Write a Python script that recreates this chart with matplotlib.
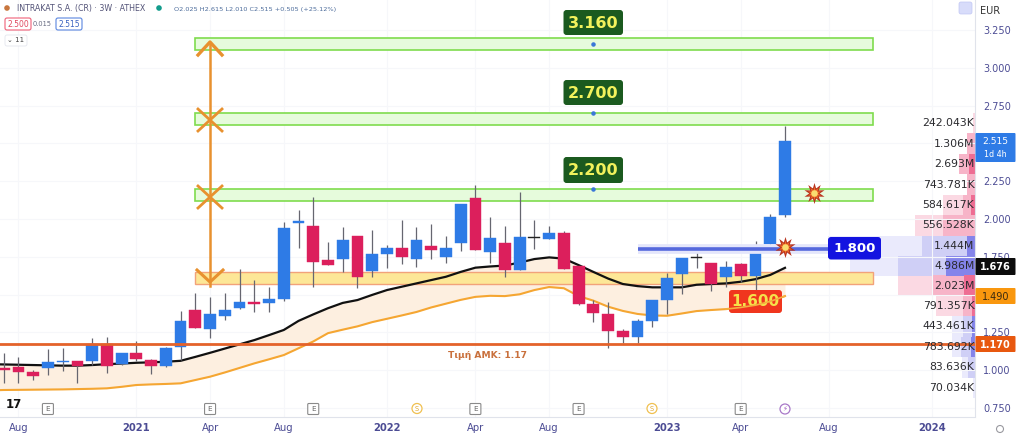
import matplotlib
matplotlib.use("Agg")
import matplotlib.pyplot as plt
import numpy as np
from matplotlib.patches import FancyBboxPatch, Rectangle, Circle
from matplotlib.transforms import Affine2D

# ---------- data ----------
opens = [1.012,1.021,0.988,1.012,1.054,1.062,1.062,1.171,1.039,1.114,1.065,1.030,1.151,1.398,1.272,1.356,1.411,1.451,1.444,1.471,
         1.972,1.954,1.729,1.733,1.889,1.656,1.766,1.808,1.733,1.823,1.748,1.843,2.141,1.782,1.843,1.662,1.877,1.868,1.905,1.689,
         1.438,1.373,1.257,1.221,1.327,1.466,1.638,1.740,1.709,1.616,1.700,1.623,1.837,2.025]
highs = [1.115,1.085,1.001,1.140,1.145,1.062,1.213,1.221,1.115,1.193,1.072,1.153,1.391,1.508,1.482,1.511,1.667,1.597,1.552,1.982,
         2.059,2.147,1.850,1.949,1.889,1.927,1.828,1.993,1.949,1.965,1.887,2.097,2.225,2.015,1.954,2.176,1.993,1.954,1.921,1.689,
         1.464,1.449,1.272,1.338,1.462,1.641,1.740,1.795,1.709,1.724,1.707,1.856,2.031,2.615]
lows = [0.913,0.913,0.935,0.966,0.995,0.913,1.034,0.979,1.034,1.062,0.975,1.019,1.067,1.277,1.211,1.334,1.407,1.387,1.387,1.460,
        1.810,1.552,1.694,1.651,1.541,1.618,1.678,1.702,1.684,1.733,1.711,1.790,1.797,1.711,1.614,1.662,1.801,1.868,1.667,1.431,
        1.321,1.149,1.178,1.178,1.283,1.372,1.504,1.674,1.526,1.552,1.585,1.530,1.800,2.010]
closes = [1.001,0.988,0.963,1.054,1.062,1.028,1.173,1.026,1.115,1.074,1.030,1.149,1.327,1.277,1.372,1.400,1.451,1.440,1.473,1.940,
          1.989,1.718,1.698,1.859,1.618,1.766,1.808,1.748,1.859,1.795,1.808,2.097,1.797,1.874,1.662,1.879,1.877,1.905,1.667,1.438,
          1.378,1.259,1.221,1.327,1.462,1.612,1.740,1.740,1.570,1.680,1.623,1.800,2.013,2.515]
ma_black = [1.040,1.038,1.036,1.034,1.032,1.030,1.030,1.034,1.040,1.044,1.049,1.052,1.056,1.062,1.088,1.115,1.143,1.171,1.199,1.232,1.266,
            1.326,1.369,1.410,1.445,1.464,1.498,1.530,1.552,1.574,1.596,1.618,1.650,1.678,1.686,1.692,1.712,1.735,1.746,1.738,1.695,
            1.650,1.606,1.570,1.556,1.548,1.548,1.548,1.565,1.570,1.574,1.585,1.602,1.630,1.677]
ma_orange = [0.866,0.869,0.870,0.871,0.872,0.873,0.875,0.877,0.880,0.890,0.902,0.906,0.909,0.913,0.935,0.957,0.985,1.015,1.045,1.072,1.100,
             1.145,1.190,1.245,1.268,1.290,1.318,1.340,1.362,1.385,1.415,1.440,1.465,1.485,1.492,1.490,1.502,1.530,1.550,1.542,1.490,
             1.460,1.420,1.392,1.372,1.362,1.360,1.375,1.391,1.398,1.404,1.415,1.430,1.455,1.490]

target_levels = [3.16, 2.70, 2.20]
target_labels = ["3.160", "2.700", "2.200"]
target_zones = [(3.118, 3.197), (2.622, 2.700), (2.120, 2.200)]
yellow_zone = (1.570, 1.650)
amk_price = 1.17
blue_level = 1.80

vp_prices = [2.635,2.499,2.364,2.228,2.092,1.957,1.821,1.689,1.560,1.425,1.289,1.153,1.018,0.882]
vp_labels = ["242.043K","1.306M","2.693M","743.781K","584.617K","556.528K","1.444M","4.986M","2.023M","791.357K","443.461K","783.692K","83.636K","70.034K"]
vp_light = [2,8,16,8,32,60,147,125,77,39,23,23,13,2]
vp_mid   = [0,8,16,8,12,32,53,77,43,12,12,14,7,0]
vp_dark  = [0,0,6,0,4,0,8,29,11,3,3,4,0,0]
vp_side  = ["s","s","s","s","s","s","b","b","s","s","b","b","b","b"]

price_ticks = [3.25,3.0,2.75,2.5,2.25,2.0,1.75,1.5,1.25,1.0,0.75]
price_tick_labels = ["3.250","3.000","2.750","","2.250","2.000","1.750","","1.250","1.000","0.750"]
date_pos = [1,9,14,19,26,32,37,45,50,56,63]
date_labels = ["Aug","2021","Apr","Aug","2022","Apr","Aug","2023","Apr","Aug","2024"]
earnings_idx = [3,14,21,32,39,50]

# ---------- layout ----------
W, H = 1024, 442
fig = plt.figure(figsize=(W/100, H/100), dpi=100, facecolor="white")
axrect = [0, (H-416.5)/H, 975/W, 416.5/H]
ylim = (0.6937, 3.4484)
xlim = (-0.251, 65.89)
pxT = Affine2D().scale(1, -1).translate(0, H)

vp = fig.add_axes(axrect, zorder=0)
vp.set_xlim(975, 0); vp.set_ylim(*ylim); vp.axis("off")
ax = fig.add_axes(axrect, zorder=1)
ax.patch.set_alpha(0)
ax.set_xlim(*xlim); ax.set_ylim(*ylim)

TICK = "#4c4c94"
ax.yaxis.tick_right()
ax.set_yticks(price_ticks, price_tick_labels, color=TICK, fontsize=7)
ax.set_xticks(date_pos, date_labels, color=TICK, fontsize=7.2)
for t, s in zip(ax.get_xticklabels(), date_labels):
    if s.isdigit():
        t.set_fontweight("bold")
ax.tick_params(length=0, axis="y", pad=6)
ax.tick_params(length=0, axis="x", pad=5)
ax.grid(True, color="#f6f7fa", lw=0.8)
ax.set_axisbelow(True)
for s in ["top", "left"]:
    ax.spines[s].set_visible(False)
for s in ["right", "bottom"]:
    ax.spines[s].set_color("#e0e3eb")

# volume profile
wh = 0.1362
PK = ["#fbd9e3", "#f7b4c8", "#ee6d93"]
LV = ["#eaeafc", "#cfcff6", "#8484ea"]
for vals, lev in ((vp_light, 0), (vp_mid, 1), (vp_dark, 2)):
    cols = [(PK if s == "s" else LV)[lev] for s in vp_side]
    vp.barh(vp_prices, vals, height=wh, left=0, color=cols, lw=0)

# MA band
ma_x = np.arange(-1, len(closes))
ax.fill_between(ma_x, ma_orange, ma_black, color="#fdefe0", lw=0, zorder=1)

# zones
for lo, hi in target_zones:
    ax.add_patch(Rectangle((13, lo), 46, hi-lo, fc="#e6fbdc", ec="#7fdc4e", lw=1.2, zorder=1.5))
ax.add_patch(Rectangle((13, yellow_zone[0]), 46, yellow_zone[1]-yellow_zone[0], fc="#fde797", ec="#f2a27a", lw=1, zorder=1.5))

ax.plot(ma_x, ma_orange, color="#f5a632", lw=1.5, zorder=2)
ax.plot(ma_x, ma_black, color="#111111", lw=1.6, zorder=2)

# candles
BLUE, RED = "#2e7be6", "#dc1f5c"
idx = np.arange(len(closes))
o, h, l, c = map(np.array, (opens, highs, lows, closes))
cols = np.where(c > o, BLUE, np.where(c < o, RED, "#222222"))
ax.vlines(idx, l, h, color="#666670", lw=0.9, zorder=2.2)
bot = np.minimum(o, c); top = np.maximum(o, c)
ax.bar(idx, np.maximum(top-bot, 0.006), bottom=bot, width=0.8, color=cols, edgecolor=cols, lw=0.3, zorder=2.4)

# AMK line and blue line
ax.plot([xlim[0], xlim[1]], [amk_price]*2, color="#e4622a", lw=2, zorder=2.6)
ax.text(32.85, 1.10, "Τιμή ΑΜΚ: 1.17", color="#c9703c", fontsize=6.6, fontweight="bold", ha="center", va="center", zorder=3)
ax.plot([43, 56], [blue_level]*2, color="#e4e6fb", lw=7, solid_capstyle="butt", zorder=2.5)
ax.plot([43, 56], [blue_level]*2, color="#5568dc", lw=2.6, solid_capstyle="butt", zorder=2.6)

# orange arrow
A = "#e8912f"
ax.plot([14, 14], [3.16, 1.555], color=A, lw=1.8, zorder=3)
ax.plot([198, 210, 222], [55, 42, 55], color=A, lw=2.4, transform=pxT, clip_on=False, zorder=3.4)
ax.plot([197, 210, 223], [270, 282, 270], color=A, lw=2.2, transform=pxT, clip_on=False, zorder=3.4)
for yc in (120, 197):
    ax.plot([198, 222], [yc-11, yc+11], color=A, lw=2, transform=pxT, zorder=3)
    ax.plot([198, 222], [yc+11, yc-11], color=A, lw=2, transform=pxT, zorder=3)

def box(x0, y0, x1, y1, fc, ec="none", lw=0, r=2, z=5):
    p = FancyBboxPatch((x0+r, y0+r), x1-x0-2*r, y1-y0-2*r, boxstyle=f"round,pad={r},rounding_size={r}",
                       fc=fc, ec=ec, lw=lw, transform=pxT, clip_on=False, zorder=z)
    ax.add_patch(p)

def txt(x, y, s, color="#333333", size=7, ha="center", weight="normal", z=6, **kw):
    ax.text(x, y, s, color=color, fontsize=size, ha=ha, va="center", fontweight=weight,
            transform=pxT, clip_on=False, zorder=z, **kw)

# target labels
for lv, lab, (y0, y1) in zip(target_levels, target_labels, [(10, 35), (80, 105), (157, 183)]):
    box(563.5, y0, 623, y1, "#1b5a1f", r=3)
    txt(593, (y0+y1)/2+0.5, lab, color="#f2f25c", size=11.5, weight="bold")
    ax.scatter([40], [lv], s=5, color="#3a78d8", zorder=4)

box(828, 237, 881, 259.5, "#1313e0", r=3)
txt(854.5, 248.5, "1.800", color="white", size=9.6, weight="bold")
box(729, 290, 782, 313, "#f0361e", r=3)
txt(755.5, 302, "1.600", color="#f6e24a", size=11, weight="bold")
ax.plot(ma_x[-5:], ma_orange[-5:], color="#f5b040", lw=1.2, zorder=6.5)

# bursts
for xi, yi in [(55, 2.172), (53, 1.815)]:
    ax.scatter([xi], [yi], s=230, marker=(10, 1, 0), color="#b8321e", lw=0, zorder=4.5)
    ax.scatter([xi], [yi], s=95, marker=(10, 1, 0), color="#f0702a", lw=0, zorder=4.6)
    ax.scatter([xi], [yi], s=22, marker="o", color="#f9dc70", lw=0, zorder=4.7)

# profile labels
for p, s in zip(vp_prices, vp_labels):
    ax.text(65.85, p, s, color="#2a2a2e", fontsize=7.8, ha="right", va="center", zorder=4)

# price tags
box(975.5, 133, 1015.5, 162, BLUE, r=1)
txt(995.5, 141, "2.515", color="white", size=6.6)
txt(995.5, 154.5, "1d 4h", color="white", size=5.8)
box(975.5, 258, 1015.5, 275, "#0c0c0c", r=1)
txt(995.5, 267, "1.676", color="white", size=7, weight="bold")
box(975.5, 288, 1015.5, 304, "#f9970e", r=1)
txt(995.5, 296.5, "1.490", color="#3a2a10", size=7)
box(975.5, 336, 1015.5, 352, "#e8580f", r=1)
txt(995.5, 344.5, "1.170", color="white", size=7, weight="bold")

# header
ax.add_patch(Circle((7, 8), 2.8, fc="#c8763e", ec="none", transform=pxT, zorder=6))
txt(17, 9, "INTRAKAT S.A. (CR) · 3W · ATHEX", color="#545478", size=5.7, ha="left")
ax.add_patch(Circle((159, 8), 2.8, fc="#139c8c", ec="none", transform=pxT, zorder=6))
txt(174, 9.5, "O2.025 H2.615 L2.010 C2.515 +0.505 (+25.12%)", color="#4a6a9a", size=4.65, ha="left")
box(5, 18, 31, 30, "white", ec="#ef5f78", lw=0.8)
txt(18, 24.5, "2.500", color="#e0485f", size=5.5)
txt(42, 24.5, "0.015", color="#666a80", size=4.8)
box(56, 18, 82, 30, "white", ec="#5a86e0", lw=0.8)
txt(69, 24.5, "2.515", color="#3a62c0", size=5.5)
box(5, 35, 27, 46, "white", ec="#e4e6ee", lw=0.6)
txt(16, 40.5, "⌄ 11", color="#444444", size=5)

# top right
box(959, 2, 972, 14, "#d8dcfa", ec="#c0c6f4", lw=0.5)
txt(990, 11, "EUR", color="#333333", size=7)

# bottom markers
for i in earnings_idx:
    xp = 3.7 + 14.74*i
    box(xp-5.5, 403.5, xp+5.5, 414.5, "white", ec="#8a8a8a", lw=0.8, r=1)
    txt(xp, 409.2, "E", color="#666666", size=5.2)
for xp in (417, 652):
    ax.add_patch(Circle((xp, 408.5), 5, fc="white", ec="#f0c050", lw=0.9, transform=pxT, zorder=6))
    txt(xp, 408.8, "S", color="#e0a830", size=4.8)
ax.add_patch(Circle((785, 409), 5, fc="white", ec="#a878c8", lw=0.9, transform=pxT, zorder=6))
txt(785, 409, "⚡", color="#a060c0", size=5)
txt(14, 404.5, "17", color="#111111", size=8.5, weight="bold")
ax.add_patch(Circle((1000, 429), 3.5, fc="white", ec="#9a9aa0", lw=0.8, transform=pxT, zorder=6, clip_on=False))

fig.savefig("out.png", dpi=100)
